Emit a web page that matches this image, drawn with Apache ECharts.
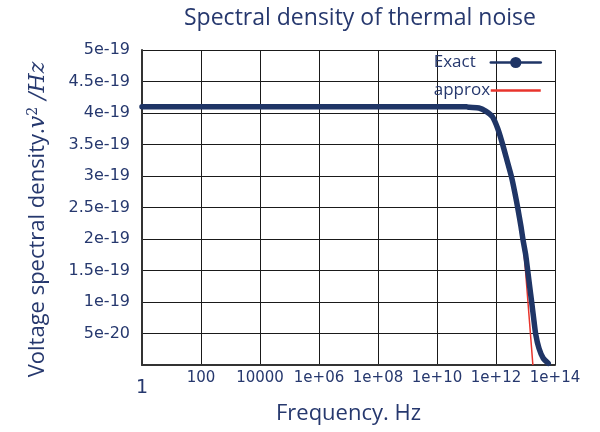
<!DOCTYPE html>
<html><head><meta charset="utf-8">
<script src="https://cdn.jsdelivr.net/npm/echarts@6/dist/echarts.min.js"></script>
<style>html,body{margin:0;padding:0;background:#fff}#c{width:600px;height:432px}</style>
</head><body><div id="c"></div>
<script>
// Frequencies in Hz, values in V^2/Hz
const exactFreq = [1, 1e4, 1e8, 1e11, 1.23e11, 2.63e11, 4.47e11, 7.59e11, 1.15e12, 1.64e12, 2.33e12, 3.31e12, 4.32e12, 5.50e12, 7.05e12, 8.24e12, 1.016e13, 1.186e13, 1.387e13, 1.62e13, 1.89e13, 2.21e13, 2.86e13, 3.99e13, 5.89e13];
const exactValues = [4.1e-19, 4.1e-19, 4.1e-19, 4.1e-19, 4.09e-19, 4.08e-19, 4.03e-19, 3.94e-19, 3.75e-19, 3.518e-19, 3.259e-19, 2.997e-19, 2.742e-19, 2.485e-19, 2.194e-19, 1.987e-19, 1.749e-19, 1.50e-19, 1.245e-19, 0.997e-19, 0.742e-19, 0.493e-19, 0.265e-19, 0.107e-19, 0.027e-19];
const approxFreq = [1, 1e4, 1e8, 1e11, 1.23e11, 2.63e11, 4.47e11, 7.59e11, 1.15e12, 1.64e12, 2.33e12, 3.31e12, 4.32e12, 5.50e12, 7.05e12, 9.55e12, 1.78e13];
const approxValues = [4.1e-19, 4.1e-19, 4.1e-19, 4.1e-19, 4.09e-19, 4.08e-19, 4.03e-19, 3.94e-19, 3.75e-19, 3.518e-19, 3.259e-19, 2.997e-19, 2.742e-19, 2.485e-19, 2.194e-19, 1.62e-19, 0];
const seriesNames = ['Exact', 'approx'];
const titleText = 'Spectral density of thermal noise';
const xName = 'Frequency. Hz';

const txt = '#26386e';
const font = 'Open Sans';
const tickFont = 'DejaVu Sans';
const chart = echarts.init(document.getElementById('c'), null, {renderer: 'canvas'});
chart.setOption({
  animation: false,
  backgroundColor: '#fff',
  title: {text: titleText, top: 2, left: 355, textAlign: 'center',
    textStyle: {color: txt, fontSize: 23, fontWeight: 'normal', fontFamily: font}},
  grid: {left: 142, right: 45, top: 50, bottom: 67},
  legend: {
    orient: 'vertical', right: 53, top: 49, align: 'right', itemWidth: 50, itemHeight: 14, itemGap: 11,
    formatter: function (name) { return '{a|' + name + '}'; },
    textStyle: {color: txt, fontSize: 17, fontFamily: font,
      rich: {a: {color: txt, fontSize: 17, fontFamily: font, width: 52, align: 'left'}}},
    data: [
      {name: seriesNames[0], lineStyle: {width: 2.5}},
      {name: seriesNames[1], lineStyle: {width: 2.5}, itemStyle: {opacity: 0}}
    ]
  },
  xAxis: {
    type: 'log', logBase: 10, min: 1, max: 1e14, interval: 2,
    name: xName, nameLocation: 'middle', nameGap: 27,
    nameTextStyle: {color: txt, fontSize: 22, fontFamily: font},
    axisLine: {show: true, lineStyle: {color: '#333', width: 2}},
    axisTick: {show: false},
    splitLine: {show: true, showMinLine: true, showMaxLine: true, lineStyle: {color: '#1a1a1a', width: 1}},
    axisLabel: {
      color: txt, fontSize: 15, fontFamily: tickFont, margin: 6,
      formatter: function (v) {
        const e = Math.round(Math.log10(v));
        if (e === 0) return '{one|1}';
        if (e <= 4) return String(Math.round(v));
        return '1e+' + (e < 10 ? '0' : '') + e;
      },
      rich: {one: {fontSize: 19, color: txt, fontFamily: tickFont, padding: [8, 0, 0, 0]}}
    }
  },
  yAxis: {
    type: 'value', min: 0, max: 5e-19, interval: 5e-20,
    name: '{t|Voltage spectral density.}{it|v}{n|2}{it| /Hz}', nameLocation: 'middle', nameGap: 92,
    nameTextStyle: {
      color: txt, fontSize: 22, fontFamily: font, padding: [0, 24, 0, 0],
      rich: {
        t: {color: txt, fontSize: 22, fontFamily: font},
        it: {color: txt, fontSize: 22, fontFamily: 'DejaVu Serif', fontStyle: 'italic'},
        n: {color: txt, fontSize: 14, fontFamily: 'DejaVu Serif', padding: [0, 0, 10, 0]}
      }
    },
    axisLine: {show: true, lineStyle: {color: '#333', width: 2}},
    axisTick: {show: false},
    splitLine: {show: true, showMinLine: true, showMaxLine: true, lineStyle: {color: '#1a1a1a', width: 1}},
    axisLabel: {
      color: txt, fontSize: 16, fontFamily: tickFont, margin: 12,
      formatter: function (v) {
        if (Math.abs(v) < 1e-25) return '';
        return parseFloat(v.toPrecision(3)).toExponential();
      }
    }
  },
  series: [
    {
      name: seriesNames[1], type: 'line', z: 2, symbol: 'none',
      lineStyle: {color: '#e8342c', width: 1.5}, itemStyle: {color: '#e8342c'},
      data: approxFreq.map((f, i) => [f, approxValues[i]])
    },
    {
      name: seriesNames[0], type: 'line', z: 3, symbol: 'circle', symbolSize: 9, showSymbol: false,
      smooth: 0.2,
      lineStyle: {color: '#1f3566', width: 5.5, join: 'round', cap: 'round'}, itemStyle: {color: '#1f3566'},
      data: exactFreq.map((f, i) => [f, exactValues[i]])
    }
  ]
});
</script>
</body></html>
